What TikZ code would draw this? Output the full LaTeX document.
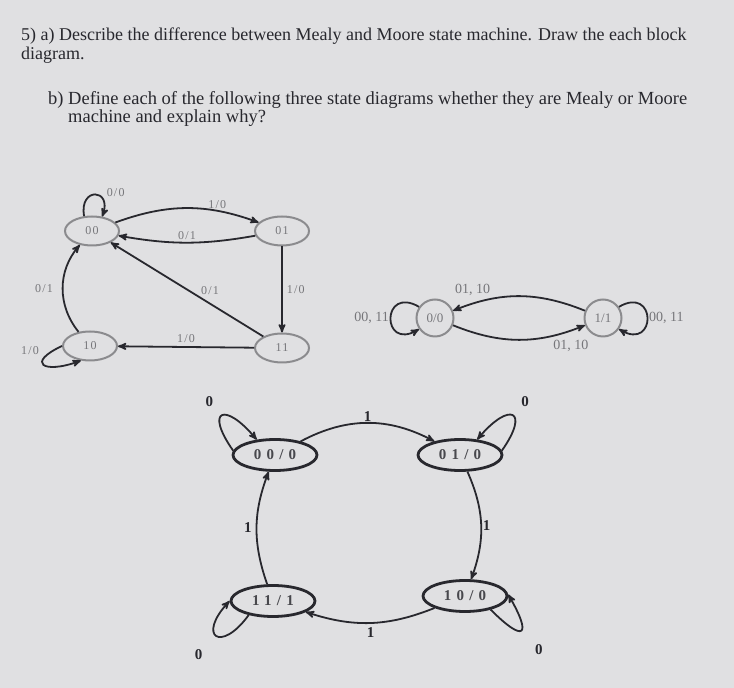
\documentclass[tikz,border=0pt]{standalone}
\usepackage{fontspec}
\setmainfont{Liberation Serif}
\usetikzlibrary{arrows,shapes}
\definecolor{paper}{RGB}{224,224,226}
\definecolor{ink}{RGB}{40,40,46}
\definecolor{pale}{RGB}{118,118,122}
\tikzstyle{question}=[anchor=north west,inner sep=0pt,align=left,text=ink,font=\fontsize{18}{19}\selectfont]
\tikzstyle{mealy}=[ellipse,draw=pale!85,line width=2pt,minimum width=54pt,minimum height=29pt,inner sep=0pt,text=pale,font=\fontsize{12}{13}\selectfont\addfontfeature{LetterSpace=12}]
\tikzstyle{moore}=[circle,draw=pale!85,line width=2pt,minimum size=37pt,inner sep=0pt,text=pale,font=\fontsize{13}{14}\selectfont]
\tikzstyle{bstate}=[ellipse,draw=ink,line width=2.8pt,minimum width=84pt,minimum height=31pt,inner sep=0pt,text=ink!85,font=\bfseries\fontsize{15}{16}\selectfont\addfontfeature{LetterSpace=35}]
\tikzstyle{edge}=[draw,->,>=stealth',line width=1.8pt,ink]
\tikzstyle{lbl}=[inner sep=1pt,text=pale,font=\fontsize{12}{13}\selectfont\addfontfeature{LetterSpace=10}]
\tikzstyle{mlbl}=[inner sep=1pt,text=pale,font=\fontsize{14}{15}\selectfont]
\tikzstyle{blbl}=[inner sep=1pt,text=ink,font=\bfseries\fontsize{15}{16}\selectfont]

\begin{document}
\begin{tikzpicture}[x=1pt,y=1pt]
    \fill[paper] (0,0) rectangle (734,688);
    \useasboundingbox (0,0) rectangle (734,688);
    % the question text
    \node[question] (qa) at (21,660) {5) a) Describe the difference between Mealy and Moore state machine. Draw the each block\\diagram.};
    \node[question,font=\fontsize{18.5}{18}\selectfont] (qb) at (48,597) {\begin{tabular}{@{}l@{ }l@{}}b) & Define each of the following three state diagrams whether they are Mealy or Moore\\ & machine and explain why?\end{tabular}};

    % Mealy machine: states first
    \foreach \pos/\name/\txt in {{(92,457)/q00/00}, {(282,457)/q01/01}, {(90,342)/q10/10}, {(282,340)/q11/11}}
        \node[mealy] (\name) at \pos {\txt};
    % then the transitions
    \path[edge] (q00) to[bend left=20] node[lbl,pos=0.72,above]{1/0} (q01);
    \path[edge] (q01) to[bend left=10] node[lbl,above=1pt]{0/1} (q00);
    \path[edge] (q01) -- node[lbl,right=3pt]{1/0} (q11);
    \path[edge] (q11) -- node[lbl,pos=0.42,above right]{0/1} (q00);
    \path[edge] (q11) -- node[lbl,above=2pt]{1/0} (q10);
    \path[edge] (q10) to[bend left=40] node[lbl,left=8pt]{0/1} (q00);
    \path[edge] (q00.118) to[out=100,in=70,distance=30] node[lbl,pos=0.75,above right=2pt]{0/0} (q00.55);
    \path[edge] (q10.180) to[out=205,in=200,distance=40] node[lbl,pos=0.1,left=12pt]{1/0} (q10.238);

    % Moore machine with two states
    \foreach \pos/\name/\txt in {{(435,370)/m0/{0/0}}, {(603,370)/m1/{1/1}}}
        \node[moore] (\name) at \pos {\txt};
    \path[edge] (m1) to[bend right=22] node[mlbl,pos=0.86,above=6pt]{01, 10} (m0);
    \path[edge] (m0) to[bend right=22] node[mlbl,pos=0.9,below=8pt]{01, 10} (m1);
    \path[edge] (m0.145) to[out=150,in=210,looseness=5] node[mlbl,left]{00, 11} (m0.215);
    \path[edge] (m1.35) to[out=30,in=-30,looseness=5] node[mlbl,right]{00, 11} (m1.-35);

    % Moore machine with four states
    \foreach \pos/\name/\txt in {{(275,233)/s00/{00/0}}, {(460,233)/s01/{01/0}}, {(465,92)/s10/{10/0}}, {(273,87)/s11/{11/1}}}
        \node[bstate] (\name) at \pos {\txt};
    \path[edge] (s00) to[bend left=28] node[blbl,above]{1} (s01);
    \path[edge] (s01) to[bend left=22] node[blbl,right]{1} (s10);
    \path[edge] (s10) to[bend left=20] node[blbl,below=3pt]{1} (s11);
    \path[edge] (s11) to[bend left=20] node[blbl,left=3pt]{1} (s00);
    \path[edge] (s00.174) to[out=125,in=130,distance=50] node[blbl,pos=0.5,above left=7pt]{0} (s00.140);
    \path[edge] (s01.6) to[out=55,in=50,distance=50] node[blbl,pos=0.5,above right=7pt]{0} (s01.42);
    \path[edge] (s11.210) to[out=234,in=227,distance=48] node[blbl,pos=0.5,below left=12pt]{0} (s11.180);
    \path[edge] (s10.332) to[out=-45,in=-60,distance=48] node[blbl,pos=0.5,below right=12pt]{0} (s10.2);
\end{tikzpicture}
\end{document}
